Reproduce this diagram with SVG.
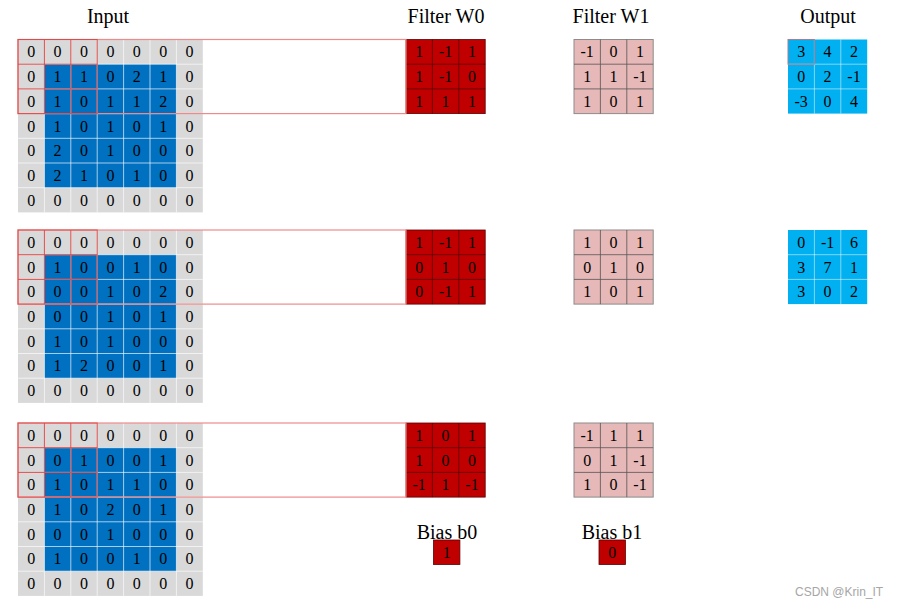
<svg xmlns="http://www.w3.org/2000/svg" width="897" height="607" viewBox="0 0 897 607">
<style>
text{font-family:"Liberation Serif","Times New Roman",serif;fill:#000}
.t{font-size:20px;text-anchor:middle}
.c text{font-size:16px;text-anchor:middle}
.c text.t{font-size:20px}
.gl{stroke:#fff;stroke-opacity:0.65;stroke-width:1;fill:none}
.win{stroke:#e04a4a;stroke-width:1;fill:none}
.long{stroke:#f08a8a;stroke-width:1.2;fill:none}
.w0{fill:#c00000;stroke:#5a0000;stroke-width:0.8}
.w0l{stroke:#5a0000;stroke-width:0.8;fill:none}
.w1{fill:#e6b8b7;stroke:#8c8c8c;stroke-width:1}
.w1l{stroke:#555;stroke-width:0.8;fill:none}
.out{fill:#00b0f0}
.outl{stroke:#fff;stroke-opacity:0.5;stroke-width:1;fill:none}
.wm{font-family:"Liberation Sans",Arial,sans-serif;font-size:12px;fill:#a6a6a6}
</style>
<defs>
<g id="grid7">
<rect x="0" y="0" width="184.8" height="172.9" fill="#d9d9d9"/>
<rect x="26.4" y="24.7" width="132" height="123.5" fill="#0070c0"/>
<path class="gl" d="M26.4 0V172.9M52.8 0V172.9M79.2 0V172.9M105.6 0V172.9M132 0V172.9M158.4 0V172.9M0 24.7H184.8M0 49.4H184.8M0 74.1H184.8M0 98.8H184.8M0 123.5H184.8M0 148.2H184.8"/>
</g>
<path id="g3" d="M26.4 0V74.1M52.8 0V74.1M0 24.7H79.2M0 49.4H79.2"/>
</defs>

<g id="titles">
<text class="t" x="108" y="23">Input</text>
<text class="t" x="446" y="23">Filter W0</text>
<text class="t" x="611" y="23">Filter W1</text>
<text class="t" x="828" y="23">Output</text>
</g>

<!-- Input channel 0 -->
<g id="input0" class="c" transform="translate(18,39.5)">
<use href="#grid7"/>
<text x="13.2" y="17.9">0</text><text x="39.6" y="17.9">0</text><text x="66" y="17.9">0</text><text x="92.4" y="17.9">0</text><text x="118.8" y="17.9">0</text><text x="145.2" y="17.9">0</text><text x="171.6" y="17.9">0</text>
<text x="13.2" y="42.6">0</text><text x="39.6" y="42.6">1</text><text x="66" y="42.6">1</text><text x="92.4" y="42.6">0</text><text x="118.8" y="42.6">2</text><text x="145.2" y="42.6">1</text><text x="171.6" y="42.6">0</text>
<text x="13.2" y="67.3">0</text><text x="39.6" y="67.3">1</text><text x="66" y="67.3">0</text><text x="92.4" y="67.3">1</text><text x="118.8" y="67.3">1</text><text x="145.2" y="67.3">2</text><text x="171.6" y="67.3">0</text>
<text x="13.2" y="92">0</text><text x="39.6" y="92">1</text><text x="66" y="92">0</text><text x="92.4" y="92">1</text><text x="118.8" y="92">0</text><text x="145.2" y="92">1</text><text x="171.6" y="92">0</text>
<text x="13.2" y="116.7">0</text><text x="39.6" y="116.7">2</text><text x="66" y="116.7">0</text><text x="92.4" y="116.7">1</text><text x="118.8" y="116.7">0</text><text x="145.2" y="116.7">0</text><text x="171.6" y="116.7">0</text>
<text x="13.2" y="141.4">0</text><text x="39.6" y="141.4">2</text><text x="66" y="141.4">1</text><text x="92.4" y="141.4">0</text><text x="118.8" y="141.4">1</text><text x="145.2" y="141.4">0</text><text x="171.6" y="141.4">0</text>
<text x="13.2" y="166.1">0</text><text x="39.6" y="166.1">0</text><text x="66" y="166.1">0</text><text x="92.4" y="166.1">0</text><text x="118.8" y="166.1">0</text><text x="145.2" y="166.1">0</text><text x="171.6" y="166.1">0</text>
</g>

<!-- Input channel 1 -->
<g id="input1" class="c" transform="translate(18,230)">
<use href="#grid7"/>
<text x="13.2" y="17.9">0</text><text x="39.6" y="17.9">0</text><text x="66" y="17.9">0</text><text x="92.4" y="17.9">0</text><text x="118.8" y="17.9">0</text><text x="145.2" y="17.9">0</text><text x="171.6" y="17.9">0</text>
<text x="13.2" y="42.6">0</text><text x="39.6" y="42.6">1</text><text x="66" y="42.6">0</text><text x="92.4" y="42.6">0</text><text x="118.8" y="42.6">1</text><text x="145.2" y="42.6">0</text><text x="171.6" y="42.6">0</text>
<text x="13.2" y="67.3">0</text><text x="39.6" y="67.3">0</text><text x="66" y="67.3">0</text><text x="92.4" y="67.3">1</text><text x="118.8" y="67.3">0</text><text x="145.2" y="67.3">2</text><text x="171.6" y="67.3">0</text>
<text x="13.2" y="92">0</text><text x="39.6" y="92">0</text><text x="66" y="92">0</text><text x="92.4" y="92">1</text><text x="118.8" y="92">0</text><text x="145.2" y="92">1</text><text x="171.6" y="92">0</text>
<text x="13.2" y="116.7">0</text><text x="39.6" y="116.7">1</text><text x="66" y="116.7">0</text><text x="92.4" y="116.7">1</text><text x="118.8" y="116.7">0</text><text x="145.2" y="116.7">0</text><text x="171.6" y="116.7">0</text>
<text x="13.2" y="141.4">0</text><text x="39.6" y="141.4">1</text><text x="66" y="141.4">2</text><text x="92.4" y="141.4">0</text><text x="118.8" y="141.4">0</text><text x="145.2" y="141.4">1</text><text x="171.6" y="141.4">0</text>
<text x="13.2" y="166.1">0</text><text x="39.6" y="166.1">0</text><text x="66" y="166.1">0</text><text x="92.4" y="166.1">0</text><text x="118.8" y="166.1">0</text><text x="145.2" y="166.1">0</text><text x="171.6" y="166.1">0</text>
</g>

<!-- Input channel 2 -->
<g id="input2" class="c" transform="translate(18,423)">
<use href="#grid7"/>
<text x="13.2" y="17.9">0</text><text x="39.6" y="17.9">0</text><text x="66" y="17.9">0</text><text x="92.4" y="17.9">0</text><text x="118.8" y="17.9">0</text><text x="145.2" y="17.9">0</text><text x="171.6" y="17.9">0</text>
<text x="13.2" y="42.6">0</text><text x="39.6" y="42.6">0</text><text x="66" y="42.6">1</text><text x="92.4" y="42.6">0</text><text x="118.8" y="42.6">0</text><text x="145.2" y="42.6">1</text><text x="171.6" y="42.6">0</text>
<text x="13.2" y="67.3">0</text><text x="39.6" y="67.3">1</text><text x="66" y="67.3">0</text><text x="92.4" y="67.3">1</text><text x="118.8" y="67.3">1</text><text x="145.2" y="67.3">0</text><text x="171.6" y="67.3">0</text>
<text x="13.2" y="92">0</text><text x="39.6" y="92">1</text><text x="66" y="92">0</text><text x="92.4" y="92">2</text><text x="118.8" y="92">0</text><text x="145.2" y="92">1</text><text x="171.6" y="92">0</text>
<text x="13.2" y="116.7">0</text><text x="39.6" y="116.7">0</text><text x="66" y="116.7">0</text><text x="92.4" y="116.7">1</text><text x="118.8" y="116.7">0</text><text x="145.2" y="116.7">0</text><text x="171.6" y="116.7">0</text>
<text x="13.2" y="141.4">0</text><text x="39.6" y="141.4">1</text><text x="66" y="141.4">0</text><text x="92.4" y="141.4">0</text><text x="118.8" y="141.4">1</text><text x="145.2" y="141.4">0</text><text x="171.6" y="141.4">0</text>
<text x="13.2" y="166.1">0</text><text x="39.6" y="166.1">0</text><text x="66" y="166.1">0</text><text x="92.4" y="166.1">0</text><text x="118.8" y="166.1">0</text><text x="145.2" y="166.1">0</text><text x="171.6" y="166.1">0</text>
</g>

<!-- Filter W0 -->
<g id="w0c0" class="c" transform="translate(406,39.5)">
<rect class="w0" width="79.2" height="74.1"/><use href="#g3" class="w0l"/>
<text x="13.2" y="17.9">1</text><text x="39.6" y="17.9">-1</text><text x="66" y="17.9">1</text>
<text x="13.2" y="42.6">1</text><text x="39.6" y="42.6">-1</text><text x="66" y="42.6">0</text>
<text x="13.2" y="67.3">1</text><text x="39.6" y="67.3">1</text><text x="66" y="67.3">1</text>
</g>
<g id="w0c1" class="c" transform="translate(406,230)">
<rect class="w0" width="79.2" height="74.1"/><use href="#g3" class="w0l"/>
<text x="13.2" y="17.9">1</text><text x="39.6" y="17.9">-1</text><text x="66" y="17.9">1</text>
<text x="13.2" y="42.6">0</text><text x="39.6" y="42.6">1</text><text x="66" y="42.6">0</text>
<text x="13.2" y="67.3">0</text><text x="39.6" y="67.3">-1</text><text x="66" y="67.3">1</text>
</g>
<g id="w0c2" class="c" transform="translate(406,423)">
<rect class="w0" width="79.2" height="74.1"/><use href="#g3" class="w0l"/>
<text x="13.2" y="17.9">1</text><text x="39.6" y="17.9">0</text><text x="66" y="17.9">1</text>
<text x="13.2" y="42.6">1</text><text x="39.6" y="42.6">0</text><text x="66" y="42.6">0</text>
<text x="13.2" y="67.3">-1</text><text x="39.6" y="67.3">1</text><text x="66" y="67.3">-1</text>
</g>

<!-- Filter W1 -->
<g id="w1c0" class="c" transform="translate(574,39.5)">
<rect class="w1" width="79.2" height="74.1"/><use href="#g3" class="w1l"/>
<text x="13.2" y="17.9">-1</text><text x="39.6" y="17.9">0</text><text x="66" y="17.9">1</text>
<text x="13.2" y="42.6">1</text><text x="39.6" y="42.6">1</text><text x="66" y="42.6">-1</text>
<text x="13.2" y="67.3">1</text><text x="39.6" y="67.3">0</text><text x="66" y="67.3">1</text>
</g>
<g id="w1c1" class="c" transform="translate(574,230)">
<rect class="w1" width="79.2" height="74.1"/><use href="#g3" class="w1l"/>
<text x="13.2" y="17.9">1</text><text x="39.6" y="17.9">0</text><text x="66" y="17.9">1</text>
<text x="13.2" y="42.6">0</text><text x="39.6" y="42.6">1</text><text x="66" y="42.6">0</text>
<text x="13.2" y="67.3">1</text><text x="39.6" y="67.3">0</text><text x="66" y="67.3">1</text>
</g>
<g id="w1c2" class="c" transform="translate(574,423)">
<rect class="w1" width="79.2" height="74.1"/><use href="#g3" class="w1l"/>
<text x="13.2" y="17.9">-1</text><text x="39.6" y="17.9">1</text><text x="66" y="17.9">1</text>
<text x="13.2" y="42.6">0</text><text x="39.6" y="42.6">1</text><text x="66" y="42.6">-1</text>
<text x="13.2" y="67.3">1</text><text x="39.6" y="67.3">0</text><text x="66" y="67.3">-1</text>
</g>

<!-- Outputs -->
<g id="out0" class="c" transform="translate(788,39.5)">
<rect class="out" width="79.2" height="74.1"/><use href="#g3" class="outl"/>
<rect x="0" y="0" width="26.4" height="24.7" fill="none" stroke="#b07a8a" stroke-width="1"/>
<text x="13.2" y="17.9">3</text><text x="39.6" y="17.9">4</text><text x="66" y="17.9">2</text>
<text x="13.2" y="42.6">0</text><text x="39.6" y="42.6">2</text><text x="66" y="42.6">-1</text>
<text x="13.2" y="67.3">-3</text><text x="39.6" y="67.3">0</text><text x="66" y="67.3">4</text>
</g>
<g id="out1" class="c" transform="translate(788,230)">
<rect class="out" width="79.2" height="74.1"/><use href="#g3" class="outl"/>
<text x="13.2" y="17.9">0</text><text x="39.6" y="17.9">-1</text><text x="66" y="17.9">6</text>
<text x="13.2" y="42.6">3</text><text x="39.6" y="42.6">7</text><text x="66" y="42.6">1</text>
<text x="13.2" y="67.3">3</text><text x="39.6" y="67.3">0</text><text x="66" y="67.3">2</text>
</g>

<!-- Bias -->
<g id="bias0" class="c">
<text class="t" x="447" y="539">Bias b0</text>
<rect x="433.5" y="540" width="26.4" height="24.5" class="w0"/>
<text x="446.7" y="558">1</text>
</g>
<g id="bias1" class="c">
<text class="t" x="612" y="539">Bias b1</text>
<rect x="599" y="540" width="26.4" height="24.5" class="w0" stroke="#c06060"/>
<text x="612.2" y="558">0</text>
</g>

<!-- Receptive-field windows / connectors -->
<g id="connectors">
<rect class="long" x="18" y="39.5" width="388" height="74.1"/>
<g transform="translate(18,39.5)"><rect class="win" width="79.2" height="74.1"/><use href="#g3" class="win"/></g>
<rect class="long" x="18" y="230" width="388" height="74.1"/>
<g transform="translate(18,230)"><rect class="win" width="79.2" height="74.1"/><use href="#g3" class="win"/></g>
<rect class="long" x="18" y="423" width="388" height="74.1"/>
<g transform="translate(18,423)"><rect class="win" width="79.2" height="74.1"/><use href="#g3" class="win"/></g>
</g>

<text class="wm" x="795" y="596">CSDN @Krin_IT</text>
</svg>
